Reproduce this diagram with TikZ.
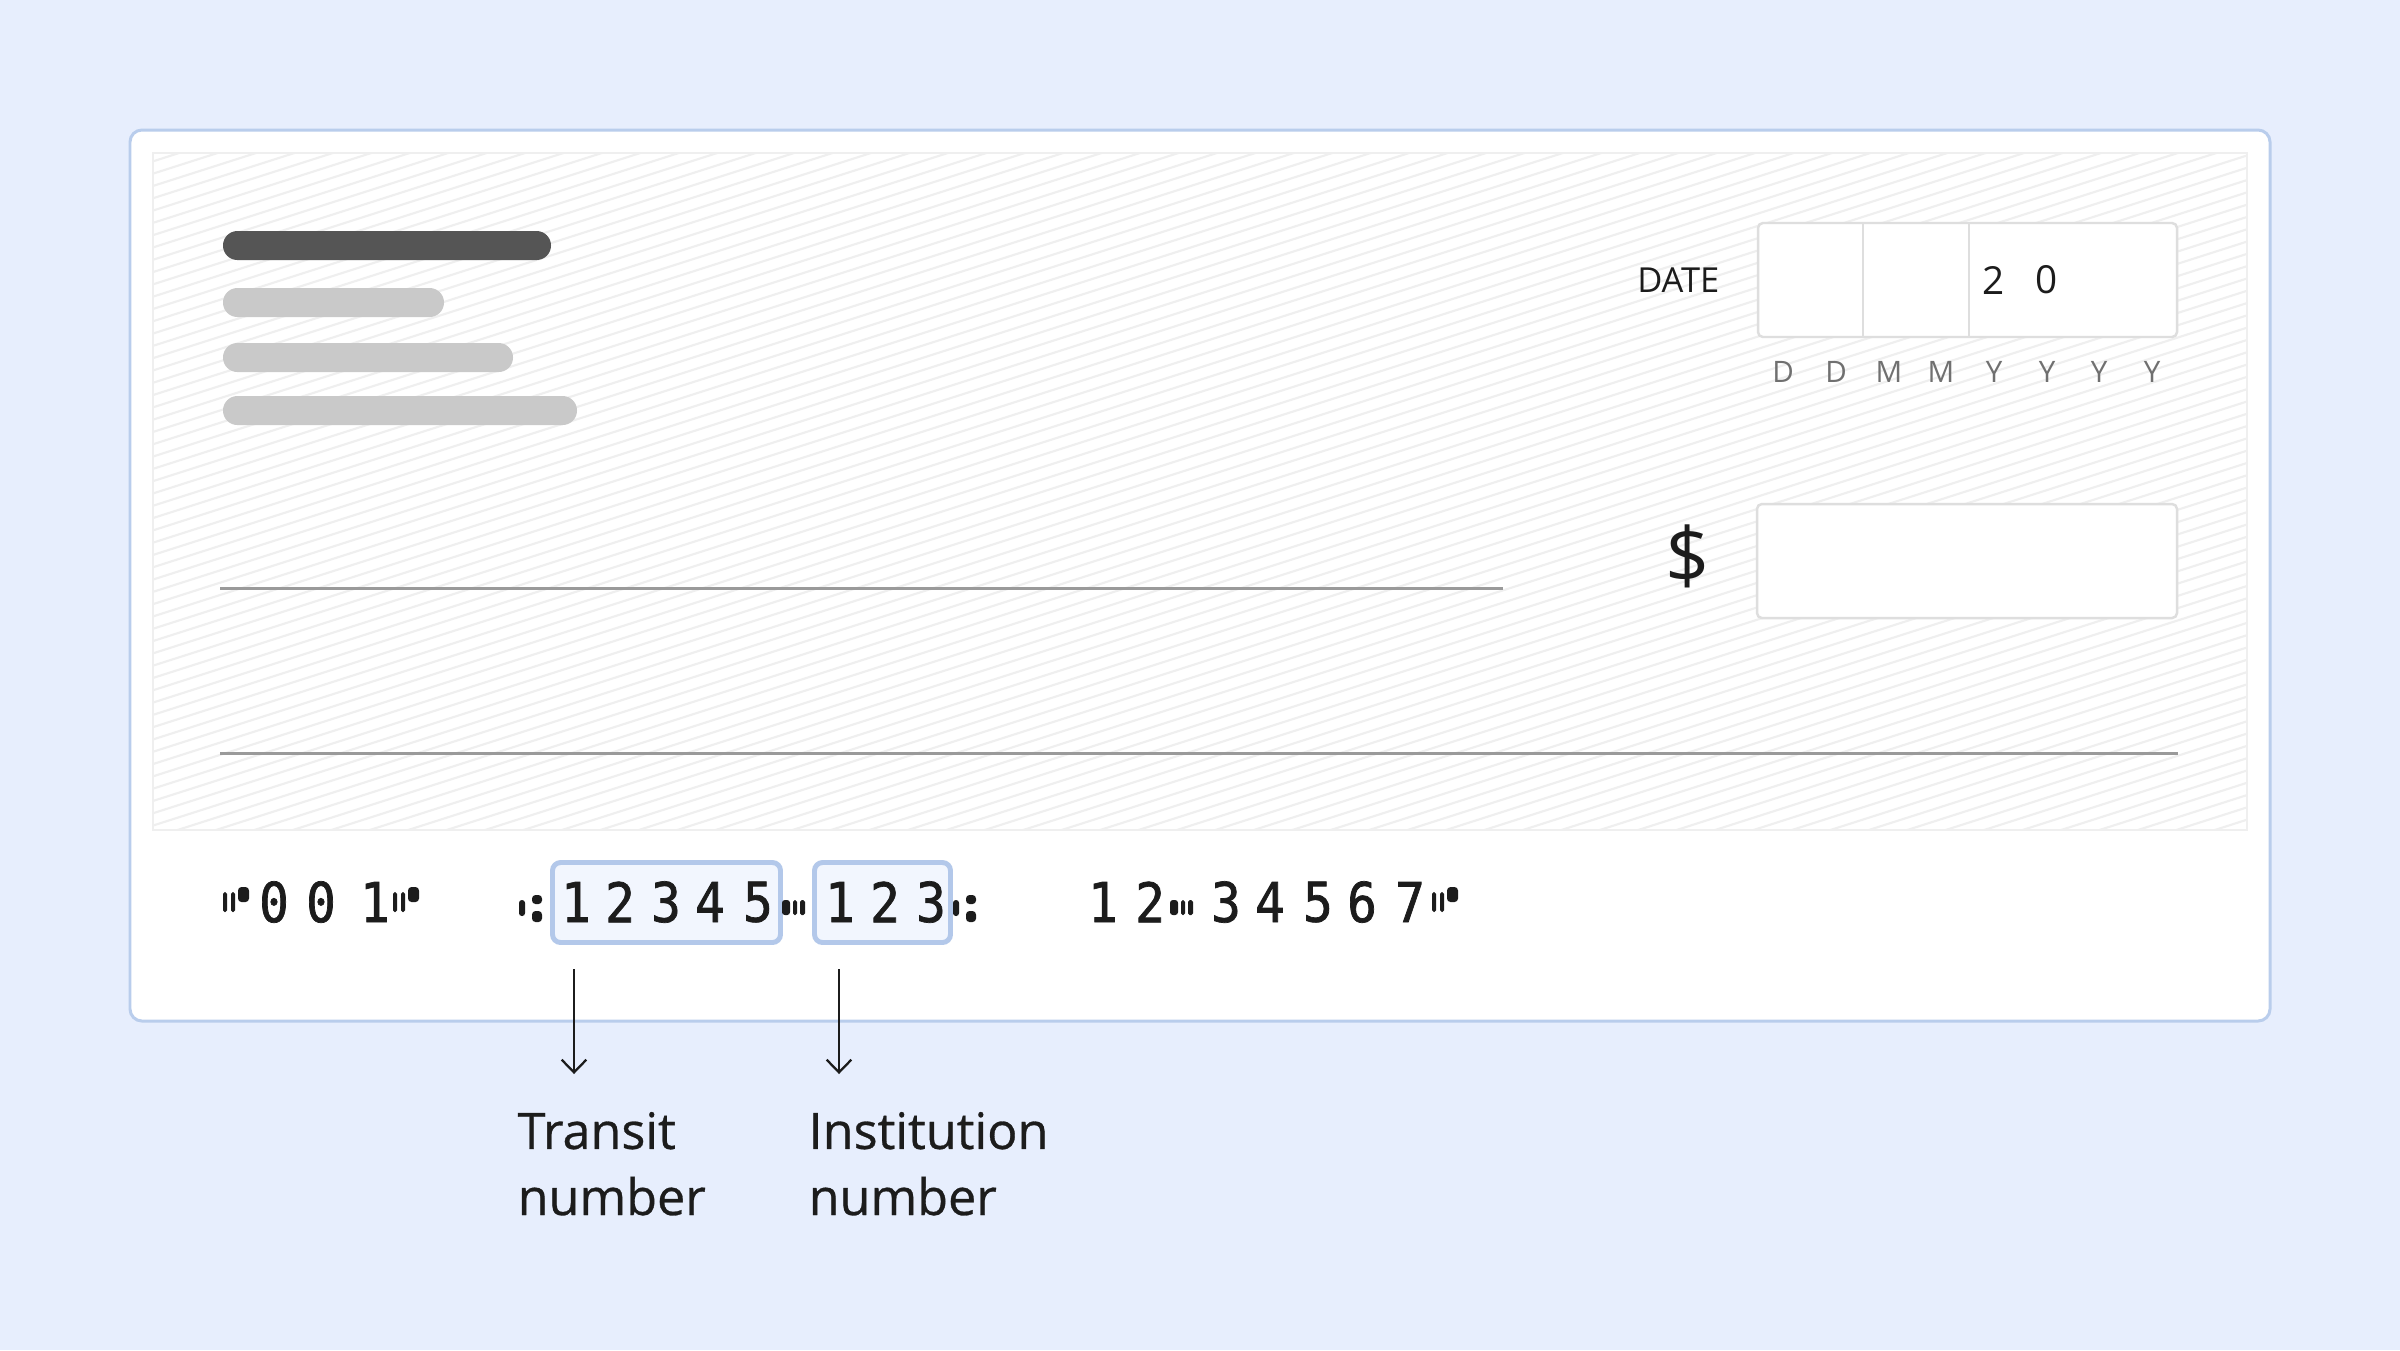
\documentclass[tikz,border=0pt]{standalone}
\usepackage{fontspec}
\setmainfont{Open Sans}
\newfontfamily\micrfont{DejaVu Sans Mono}[FakeBold=1.3,FakeStretch=0.9]
\newfontfamily\notefont{Open Sans}[FakeBold=0.6]
\usetikzlibrary{arrows.meta}
\definecolor{pagebg}{HTML}{E7EEFD}
\definecolor{cardedge}{HTML}{B9CDEC}
\definecolor{micredge}{HTML}{B3C8EA}
\definecolor{micrfill}{HTML}{F2F6FE}
\definecolor{darkbar}{HTML}{555555}
\definecolor{lightbar}{HTML}{C9C9C9}
\definecolor{ruleline}{HTML}{9A9A9A}
\definecolor{fieldedge}{HTML}{DEDEDE}
\definecolor{hatchline}{HTML}{EFEFEF}
\definecolor{ink}{HTML}{1C1C1C}
\definecolor{fmtgray}{HTML}{707070}
\tikzset{
  onus/.pic={
    \fill[ink, rounded corners=0.5pt] (0,-10) rectangle (4,10);
    \fill[ink, rounded corners=0.5pt] (8,-10) rectangle (12,10);
    \fill[ink, rounded corners=1pt] (15,-15) rectangle (26,0);
  },
  transitsym/.pic={
    \fill[ink, rounded corners=0.8pt] (0,-2) rectangle (6,14);
    \fill[ink, rounded corners=1pt] (13,-7) rectangle (23,2);
    \fill[ink, rounded corners=1pt] (13,9) rectangle (23,20);
  },
  dashsym/.pic={
    \fill[ink, rounded corners=0.8pt] (0,-2) rectangle (8,13);
    \fill[ink, rounded corners=0.5pt] (11,-2) rectangle (15,13);
    \fill[ink, rounded corners=0.5pt] (18,-2) rectangle (23,13);
  },
  micrdigit/.style={inner sep=0pt, text=ink, font=\micrfont\fontsize{15.6}{16}\selectfont},
  datetext/.style={inner sep=0pt, text=ink, font=\fontsize{9.8}{11}\selectfont},
  fmttext/.style={inner sep=0pt, text=fmtgray, font=\fontsize{8.4}{10}\selectfont},
  notetext/.style={inner sep=0pt, text=ink, align=left, anchor=base west, font=\notefont\fontsize{14.3}{18.8}\selectfont},
  fieldbox/.style={draw=fieldedge, line width=0.7pt, fill=white, rounded corners=1.4pt},
  micrbox/.style={draw=micredge, fill=micrfill, line width=1.4pt, rounded corners=2.3pt},
  pointer/.style={draw=ink, line width=0.65pt, -{Straight Barb[length=3.6pt,width=7pt,line width=0.65pt]}},
}
\begin{document}
\begin{tikzpicture}[x=0.01cm,y=-0.01cm]
\fill[pagebg] (0,0) rectangle (2400,1350);
\useasboundingbox (0,0) rectangle (2400,1350);
% card
\draw[cardedge, line width=0.85pt, fill=white, rounded corners=3.4pt] (130,130) rectangle (2270,1021);
% hatched area
\begin{scope}
  \clip (153,153) rectangle (2247,830);
  \foreach \c in {150,162.3,...,1530} {
    \draw[hatchline, line width=0.6pt] (150,\c) -- (2250,\c-672);
  }
\end{scope}
\draw[hatchline, line width=0.6pt] (153,153) rectangle (2247,830);
% name / address bars
\fill[darkbar, rounded corners=4.1pt] (223,231) rectangle (551,260);
\fill[lightbar, rounded corners=4.1pt] (223,288) rectangle (444,317);
\fill[lightbar, rounded corners=4.1pt] (223,343) rectangle (513,372);
\fill[lightbar, rounded corners=4.1pt] (223,396) rectangle (577,425);
% rules
\draw[ruleline, line width=0.85pt] (220,588) -- (1503,588);
\draw[ruleline, line width=0.85pt] (220,753) -- (2178,753);
% date
\node[datetext, anchor=east] (datelbl) at (1720,280) {DATE};
\draw[fieldbox] (1758,223) rectangle (2177,337);
\draw[fieldedge, line width=0.7pt] (1863,223) -- (1863,337);
\draw[fieldedge, line width=0.7pt] (1969,223) -- (1969,337);
\node[datetext, font=\fontsize{11}{12}\selectfont] (yr1) at (1994,280) {2};
\node[datetext, font=\fontsize{11}{12}\selectfont] (yr2) at (2047,280) {0};
\foreach \x/\t [count=\i] in {1783/D,1836/D,1889/M,1941/M,1994/Y,2047/Y,2099/Y,2152/Y} {
  \node[fmttext] (fmt\i) at (\x,372) {\t};
}
% amount
\node[inner sep=0pt, text=ink, font=\fontsize{22}{24}\selectfont] (dollar) at (1688,556) {\$};
\draw[fieldbox] (1757,504) rectangle (2177,618);
% MICR line
\draw[micrbox] (552.5,862.5) rectangle (780.5,942.5);
\draw[micrbox] (814.5,862.5) rectangle (950.5,942.5);
\pic (onusA) at (223,902) {onus};
\node[micrdigit] (c1) at (274,902) {0};
\node[micrdigit] (c2) at (321,902) {0};
\node[micrdigit] (c3) at (375,902) {1};
\pic (onusB) at (393,902) {onus};
\pic (transA) at (519,902) {transitsym};
\foreach \x/\t [count=\i] in {576/1,620/2,666/3,710/4,758/5} {
  \node[micrdigit] (t\i) at (\x,902) {\t};
}
\pic (dashA) at (782,902) {dashsym};
\foreach \x/\t [count=\i] in {840/1,885/2,931/3} {
  \node[micrdigit] (n\i) at (\x,902) {\t};
}
\pic (transB) at (953,902) {transitsym};
\node[micrdigit] (a1) at (1103,902) {1};
\node[micrdigit] (a2) at (1150,902) {2};
\pic (dashB) at (1170,902) {dashsym};
\foreach \x/\t [count=\i] in {1226/3,1270/4,1318/5,1362/6,1410/7} {
  \node[micrdigit] (a\i b) at (\x,902) {\t};
}
\pic (onusC) at (1432,902) {onus};
% arrows and labels
\coordinate (tstart) at (574,969);
\coordinate (tend) at (574,1074);
\coordinate (istart) at (839,969);
\coordinate (iend) at (839,1074);
\draw[pointer] (tstart) -- (tend);
\draw[pointer] (istart) -- (iend);
\node[notetext] (translbl) at (517,1215) {Transit\\number};
\node[notetext] (instlbl) at (808,1215) {Institution\\number};
\end{tikzpicture}
\end{document}
